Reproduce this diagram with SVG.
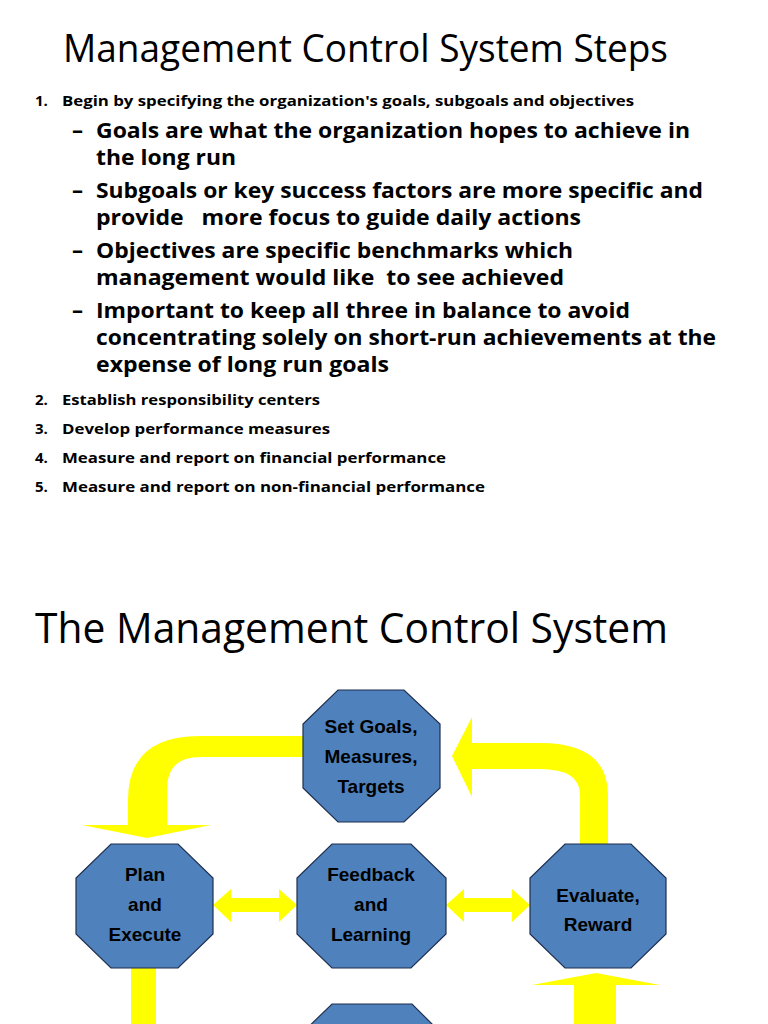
<svg xmlns="http://www.w3.org/2000/svg" width="768" height="1024" viewBox="0 0 768 1024">
<style>
.t{font-family:"Open Sans","Liberation Sans",sans-serif;fill:#000}
.h{font-size:38px}
.s{font-size:15px;font-weight:bold}
.b{font-size:22px;font-weight:bold}
.n{font-family:"Liberation Sans",Arial,sans-serif;font-size:19px;font-weight:bold;text-anchor:middle;fill:#000}
.oct{fill:#4F81BD;stroke:#1F2F4F;stroke-width:1.2}
.y{fill:#FFFF00}
</style>
<rect width="768" height="1024" fill="#fff"/>
<text class="t h" x="63" y="62" textLength="605" lengthAdjust="spacingAndGlyphs">Management Control System Steps</text>
<g class="t s">
<text x="35" y="106">1.</text><text x="62" y="106" textLength="572" lengthAdjust="spacingAndGlyphs">Begin by specifying the organization's goals, subgoals and objectives</text>
<text x="35" y="405">2.</text><text x="62" y="405" textLength="258" lengthAdjust="spacingAndGlyphs">Establish responsibility centers</text>
<text x="35" y="434">3.</text><text x="62" y="434" textLength="268" lengthAdjust="spacingAndGlyphs">Develop performance measures</text>
<text x="35" y="463">4.</text><text x="62" y="463" textLength="384" lengthAdjust="spacingAndGlyphs">Measure and report on financial performance</text>
<text x="35" y="492">5.</text><text x="62" y="492" textLength="423" lengthAdjust="spacingAndGlyphs">Measure and report on non-financial performance</text>
</g>
<g class="t b">
<text x="72" y="138">–</text><text x="96" y="138" textLength="594" lengthAdjust="spacingAndGlyphs">Goals are what the organization hopes to achieve in</text>
<text x="96" y="165" textLength="140" lengthAdjust="spacingAndGlyphs">the long run</text>
<text x="72" y="198">–</text><text x="96" y="198" textLength="607" lengthAdjust="spacingAndGlyphs">Subgoals or key success factors are more specific and</text>
<text x="96" y="225" textLength="485" lengthAdjust="spacingAndGlyphs" xml:space="preserve">provide   more focus to guide daily actions</text>
<text x="72" y="258">–</text><text x="96" y="258" textLength="477" lengthAdjust="spacingAndGlyphs">Objectives are specific benchmarks which</text>
<text x="96" y="285" textLength="468" lengthAdjust="spacingAndGlyphs" xml:space="preserve">management would like  to see achieved</text>
<text x="72" y="318">–</text><text x="96" y="318" textLength="534" lengthAdjust="spacingAndGlyphs">Important to keep all three in balance to avoid</text>
<text x="96" y="345" textLength="620" lengthAdjust="spacingAndGlyphs">concentrating solely on short-run achievements at the</text>
<text x="96" y="372" textLength="293" lengthAdjust="spacingAndGlyphs">expense of long run goals</text>
</g>
<text class="t" style="font-size:42px" x="35" y="643" textLength="633" lengthAdjust="spacingAndGlyphs">The Management Control System</text>
<g id="connectors">
<path class="y" d="M303,736 L200,736 Q128,736 128,800 L128,825 L82,825 L147,838 L211,825 L167,825 L167,790 Q167,757 200,757 L303,757 Z"/>
<path class="y" d="M580,844 L580,795 Q580,769 540,769 L472,769 L472,797 L452,756 L472,717 L472,743 L540,743 Q608,743 608,795 L608,844 Z"/>
<path class="y" d="M213,905 L231,889 L231,898 L279,898 L279,889 L297,905 L279,922 L279,912 L231,912 L231,922 Z"/>
<path class="y" d="M446,905 L464,889 L464,898 L512,898 L512,889 L530,905 L512,922 L512,912 L464,912 L464,922 Z"/>
<rect class="y" x="131" y="966" width="25" height="58"/>
<path class="y" d="M574,1024 L574,985 L532,985 L596,973 L660,985 L616,985 L616,1024 Z"/>
</g>
<g id="n1"><polygon class="oct" points="338,690 404,690 440,724 440,788 404,822 338,822 303,788 303,724"/><text class="n" x="371" y="733">Set Goals,</text><text class="n" x="371" y="763">Measures,</text><text class="n" x="371" y="793">Targets</text></g>
<g id="n2"><polygon class="oct" points="111,844 178,844 213,878 213,934 178,968 111,968 76,934 76,878"/><text class="n" x="145" y="881">Plan</text><text class="n" x="145" y="911">and</text><text class="n" x="145" y="941">Execute</text></g>
<g id="n3"><polygon class="oct" points="332,844 411,844 446,878 446,934 411,968 332,968 297,934 297,878"/><text class="n" x="371" y="881">Feedback</text><text class="n" x="371" y="911">and</text><text class="n" x="371" y="941">Learning</text></g>
<g id="n4"><polygon class="oct" points="565,844 631,844 666,878 666,934 631,968 565,968 530,934 530,878"/><text class="n" x="598" y="902">Evaluate,</text><text class="n" x="598" y="931">Reward</text></g>
<g id="n5"><polygon class="oct" points="332,1004 412,1004 446,1038 446,1094 412,1128 332,1128 297,1094 297,1038"/></g>
</svg>
